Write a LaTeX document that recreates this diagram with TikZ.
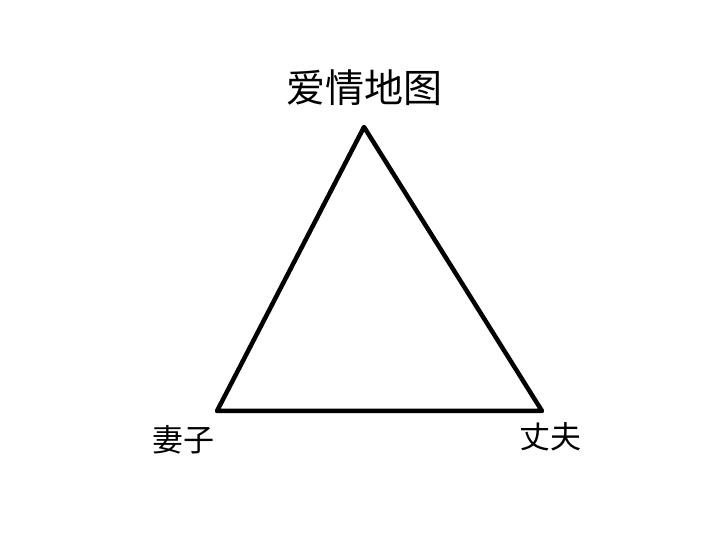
\documentclass[tikz,border=0pt]{standalone}
\usepackage{fontspec}
\newfontfamily\cjk{Noto Sans CJK SC}
\usetikzlibrary{positioning}

\begin{document}
\begin{tikzpicture}[x=1pt,y=1pt,
	side/.style={line width=4.5pt, line join=round, line cap=round},
	titletext/.style={font=\cjk\fontsize{39}{41}\selectfont, inner sep=0pt},
	persontext/.style={font=\cjk\fontsize{31}{33}\selectfont, inner sep=0pt}]
	% Fix the page to the reference size
	\useasboundingbox (0,0) rectangle (720,540);

	% Corners of the triangle
	\coordinate (top) at (364,413);
	\coordinate (wife) at (217,129);
	\coordinate (husband) at (542,129);

	\draw[side] (top) -- (wife) -- (husband) -- cycle;

	% Labels
	\node[titletext] (map) at (364,452) {爱情地图};
	\node[persontext] (wifelabel) at (183,100) {妻子};
	\node[persontext] (husbandlabel) at (550,103) {丈夫};
\end{tikzpicture}
\end{document}
